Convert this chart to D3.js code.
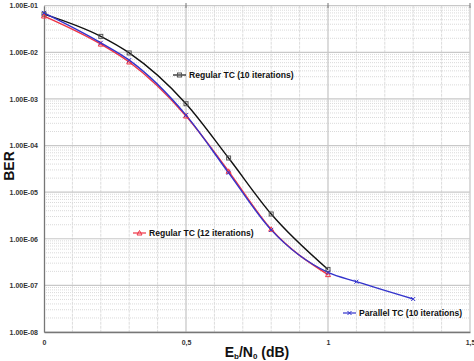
<!DOCTYPE html>
<html><head><meta charset="utf-8">
<script src="https://cdn.jsdelivr.net/npm/d3@7"></script>
<style>
html,body{margin:0;padding:0;background:#fff;}
svg{display:block;font-family:"Liberation Sans",Arial,sans-serif;}
</style></head>
<body><svg id="c" width="474" height="361"></svg>
<script>
// ---- data ----
const reg10X = [0, 0.2, 0.3, 0.5, 0.65, 0.8, 1.0];
const reg10Y = [6.6e-2, 2.2e-2, 9.7e-3, 7.9e-4, 5.4e-5, 3.4e-6, 2.2e-7];
const reg12X = [0, 0.2, 0.3, 0.5, 0.65, 0.8, 1.0];
const reg12Y = [6.0e-2, 1.5e-2, 6.2e-3, 4.3e-4, 2.8e-5, 1.6e-6, 1.7e-7];
const parX = [0, 0.2, 0.3, 0.5, 0.65, 0.8, 1.0, 1.1, 1.3];
const parY = [7.0e-2, 1.6e-2, 6.8e-3, 4.5e-4, 2.6e-5, 1.55e-6, 1.9e-7, 1.2e-7, 5.1e-8];
const xTicks = [0, 0.5, 1, 1.5];
const xTickLabels = ["0", "0,5", "1", "1,5"];
const yTicks = [1e-1, 1e-2, 1e-3, 1e-4, 1e-5, 1e-6, 1e-7, 1e-8];
const yTickLabels = ["1.00E-01","1.00E-02","1.00E-03","1.00E-04","1.00E-05","1.00E-06","1.00E-07","1.00E-08"];
const seriesNames = ["Regular TC (10 iterations)", "Regular TC (12 iterations)", "Parallel TC (10 iterations)"];

const svg = d3.select("#c");
const L = 44, R = 470, T = 5.7, B = 332;
const x = d3.scaleLinear().domain([0, 1.5]).range([L, R]);
const y = d3.scaleLog().domain([1e-8, 1e-1]).range([B, T]);

const grid = svg.append("g");
// minor horizontal grid
for (let e = -8; e < -1; e++) {
  for (let m = 2; m <= 9; m++) {
    const v = m * Math.pow(10, e);
    grid.append("line").attr("x1", L).attr("x2", R).attr("y1", y(v)).attr("y2", y(v))
      .attr("stroke", "#dadada").attr("stroke-width", 1).attr("stroke-dasharray", "1,1");
  }
}
// vertical grid every 0.1
d3.range(1, 16).forEach(i => {
  const v = i / 10;
  const major = (i % 5 === 0);
  grid.append("line").attr("x1", x(v)).attr("x2", x(v)).attr("y1", T).attr("y2", B)
    .attr("stroke", major ? "#c4c4c4" : "#dcdcdc").attr("stroke-width", major ? 1.2 : 1)
    .attr("stroke-dasharray", major ? null : "3,1");
});
// major horizontal grid
yTicks.forEach(v => {
  grid.append("line").attr("x1", L).attr("x2", R).attr("y1", y(v)).attr("y2", y(v))
    .attr("stroke", "#c8c8c8").attr("stroke-width", 1.2);
});

// axes
const yAxis = d3.axisLeft(y).tickValues(yTicks).tickFormat((d, i) => yTickLabels[i]).tickSize(0).tickPadding(6);
const gy = svg.append("g").attr("transform", `translate(${L},0)`).call(yAxis);
gy.select(".domain").attr("stroke", "#777").attr("stroke-width", 1.3);
gy.selectAll("text").attr("font-size", 7).attr("font-weight", "bold").attr("fill", "#333")
  .attr("font-family", "Liberation Sans, Arial, sans-serif");

const xAxis = d3.axisBottom(x).tickValues(xTicks).tickFormat((d, i) => xTickLabels[i]).tickSize(0).tickPadding(8);
const gx = svg.append("g").attr("transform", `translate(0,${B})`).call(xAxis);
gx.select(".domain").attr("stroke", "#777").attr("stroke-width", 1.3);
gx.selectAll("text").attr("font-size", 7).attr("font-weight", "bold").attr("fill", "#333")
  .attr("font-family", "Liberation Sans, Arial, sans-serif");

// top tick marks
xTicks.slice(1).forEach(v => {
  svg.append("line").attr("x1", x(v)).attr("x2", x(v)).attr("y1", 3).attr("y2", 8)
    .attr("stroke", "#777").attr("stroke-width", 1);
});

const line = d3.line().x(d => x(d[0])).y(d => y(d[1])).curve(d3.curveMonotoneX);
const series = [
  { xs: reg10X, ys: reg10Y, color: "#111", marker: "square" },
  { xs: reg12X, ys: reg12Y, color: "#ee3344", marker: "triangle" },
  { xs: parX, ys: parY, color: "#3333cc", marker: "cross" }
];
series.forEach(s => {
  const pts = s.xs.map((v, i) => [v, s.ys[i]]);
  svg.append("path").datum(pts).attr("d", line).attr("fill", "none")
    .attr("stroke", s.color).attr("stroke-width", 1.4);
});

function marker(g, type, cx, cy, color) {
  if (type === "square") {
    g.append("rect").attr("x", cx - 2).attr("y", cy - 2).attr("width", 4).attr("height", 4)
      .attr("fill", "none").attr("stroke", "#555").attr("stroke-width", 1);
  } else if (type === "triangle") {
    g.append("path").attr("d", `M${cx},${cy - 2.5}L${cx + 2.5},${cy + 2}L${cx - 2.5},${cy + 2}Z`)
      .attr("fill", "none").attr("stroke", color).attr("stroke-width", 1);
  } else {
    g.append("path").attr("d", `M${cx - 2},${cy - 2}L${cx + 2},${cy + 2}M${cx - 2},${cy + 2}L${cx + 2},${cy - 2}`)
      .attr("stroke", color).attr("stroke-width", 1);
  }
}
series.forEach(s => {
  const g = svg.append("g");
  s.xs.forEach((v, i) => marker(g, s.marker, x(v), y(s.ys[i]), s.color));
});

// legend labels (placed inside plot)
const legendPos = [[173, 75], [133, 233], [343, 313]];
series.forEach((s, i) => {
  const [lx, ly] = legendPos[i];
  const g = svg.append("g");
  g.append("line").attr("x1", lx).attr("x2", lx + 13).attr("y1", ly).attr("y2", ly)
    .attr("stroke", s.color).attr("stroke-width", 1.2);
  marker(g, s.marker, lx + 6.5, ly, s.color);
  g.append("text").attr("x", lx + 16).attr("y", ly + 3).attr("font-size", 8.6).attr("font-weight", "bold")
    .attr("fill", "#111").text(seriesNames[i]);
});

// axis titles
svg.append("text").attr("transform", "translate(14,166) rotate(-90)").attr("text-anchor", "middle")
  .attr("font-size", 14).attr("font-weight", "bold").attr("fill", "#111").text("BER");
const xt = svg.append("text").attr("x", 257).attr("y", 357).attr("text-anchor", "middle")
  .attr("font-size", 14).attr("font-weight", "bold").attr("fill", "#111");
xt.append("tspan").text("E");
xt.append("tspan").attr("font-size", 8).attr("dy", 2).text("b");
xt.append("tspan").attr("dy", -2).text("/N");
xt.append("tspan").attr("font-size", 8).attr("dy", 2).text("0");
xt.append("tspan").attr("dy", -2).text(" (dB)");
</script></body></html>
